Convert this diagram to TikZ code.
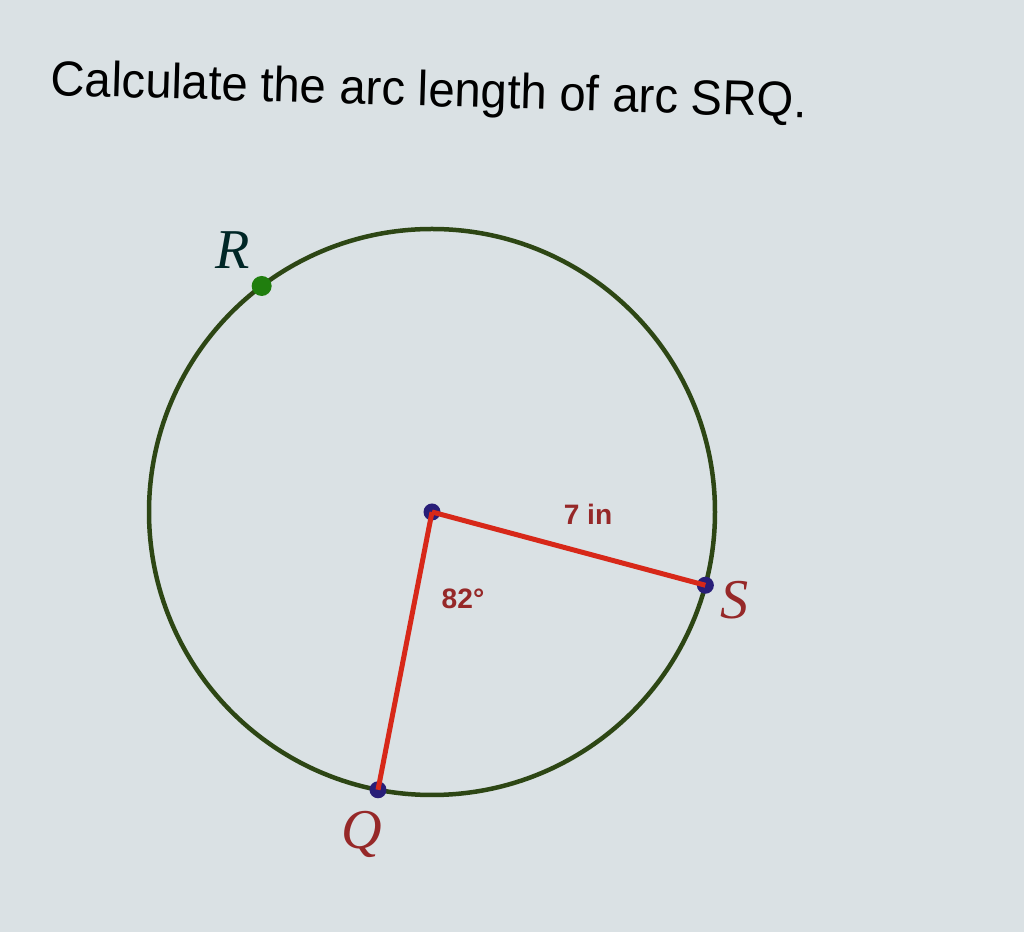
\documentclass[tikz,border=0pt]{standalone}
\usepackage{fontspec}
\setmainfont{Liberation Sans}
\newfontfamily\serifit{Liberation Serif}
\usetikzlibrary{positioning, calc}
\definecolor{paper}{RGB}{218,225,228}
\definecolor{rim}{RGB}{45,70,20}
\definecolor{spoke}{RGB}{215,40,25}
\definecolor{pt}{RGB}{40,30,120}
\definecolor{lbl}{RGB}{150,40,40}

\begin{document}
\begin{tikzpicture}[
    dot/.style={circle, fill=pt, inner sep=0pt, minimum size=0.17cm},
    ptlabel/.style={font=\serifit\itshape\fontsize{16}{16}\selectfont, text=lbl},
    small/.style={font=\fontsize{8}{8}\selectfont\bfseries, text=lbl}
]
    % Background
    \fill[paper] (0, 0) rectangle (10.24, 9.32);
    \useasboundingbox (0, 0) rectangle (10.24, 9.32);

    % Title
    \node[anchor=base west, inner sep=0pt, rotate=-1.7, xscale=0.96, font=\fontsize{14}{14}\selectfont] (title) at (0.50, 8.37)
        {Calculate the arc length of arc SRQ.};

    % Circle and points
    \coordinate (O) at (4.32, 4.20);
    \draw[rim, line width=0.45mm] (O) circle (2.83);
    \node[dot] (C) at (O) {};
    \node[dot] (S) at ($(O) + (-15:2.83)$) {};
    \node[dot] (Q) at ($(O) + (259:2.83)$) {};
    \node[dot, fill=rim!70!green, minimum size=0.2cm] (R) at ($(O) + (127:2.83)$) {};

    % Radii
    \draw[spoke, line width=0.5mm] (C.center) -- (S.center);
    \draw[spoke, line width=0.5mm] (C.center) -- (Q.center);

    % Labels
    \node[ptlabel, text=black!70!teal] (lR) at (2.33, 6.82) {R};
    \node[ptlabel] (lS) at (7.35, 3.32) {S};
    \node[ptlabel] (lQ) at (3.62, 0.98) {Q};
    \node[small] (len) at (5.88, 4.18) {7 in};
    \node[small] (ang) at (4.63, 3.33) {82\textdegree};
\end{tikzpicture}
\end{document}
